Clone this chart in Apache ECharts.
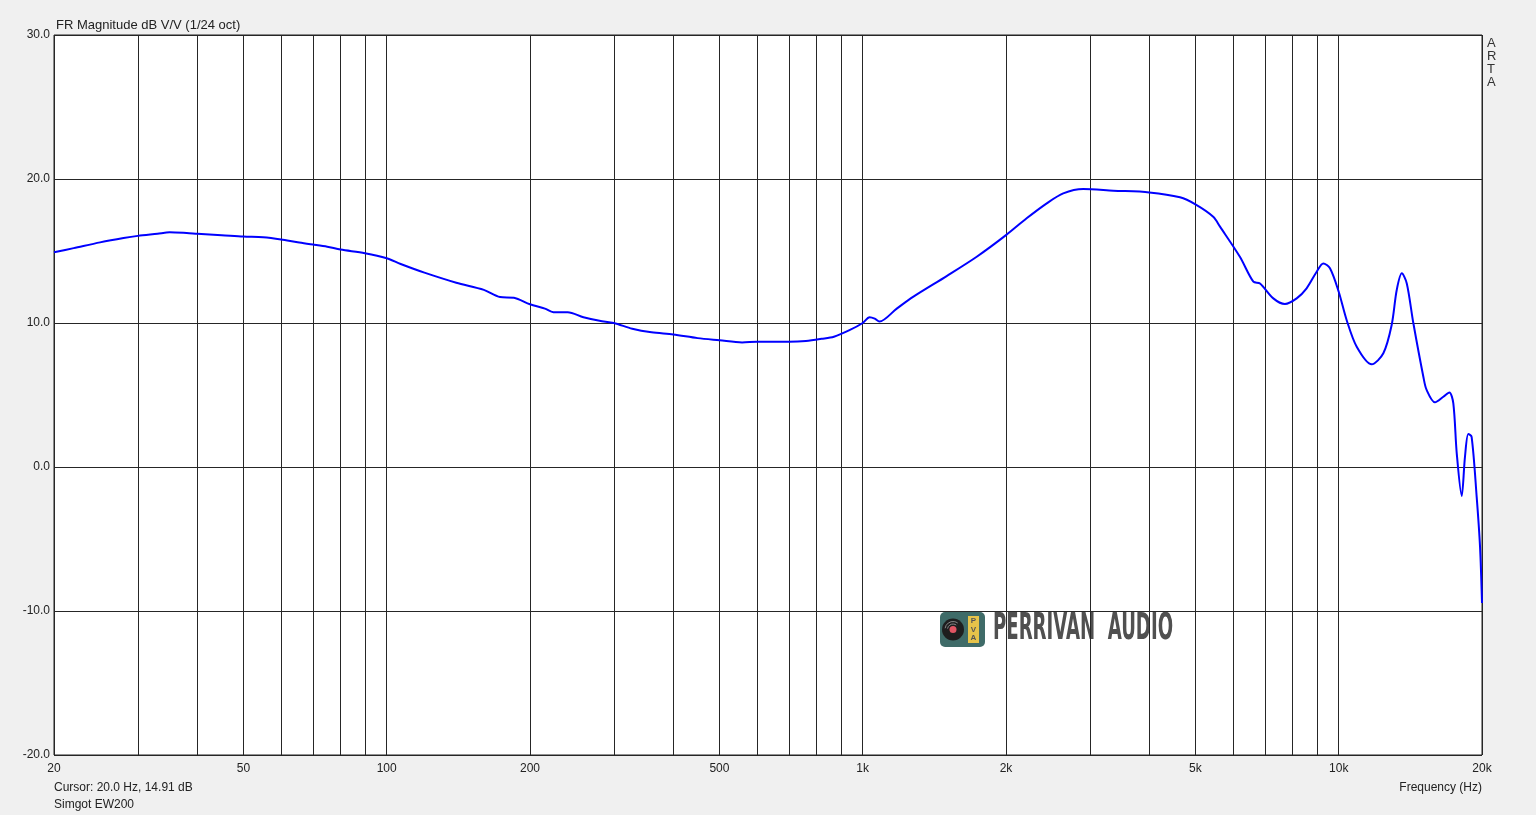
<!DOCTYPE html>
<html>
<head>
<meta charset="utf-8">
<script src="https://cdn.jsdelivr.net/npm/echarts@6/dist/echarts.min.js"></script>
<style>
html,body{margin:0;padding:0;background:#f0f0f0;}
#chart{width:1536px;height:815px;}
</style>
</head>
<body>
<div id="chart"></div>
<script>
// Frequency (Hz) and magnitude (dB)
const freqHz = [20,22,25,28,30,33,35,38,40,45,50,55,60,65,70,75,80,90,100,107,120,140,160,173,185,200,215,224,240,259,280,300,328,360,400,450,500,558,600,700,760,820,870,938,1000,1034,1060,1084,1179,1278,1501,1736,2000,2210,2436,2638,2906,3361,4000,4640,5000,5450,5632,6200,6618,6834,7288,7710,8160,8562,8990,9280,9586,10000,10390,10910,11730,12410,12920,13240,13570,13900,14350,15060,15300,15930,16590,17080,17410,17700,18130,18420,18720,19020,19490,19810,20000];
const magDb = [14.91,15.2,15.6,15.9,16.05,16.2,16.3,16.25,16.2,16.1,16.0,15.95,15.8,15.6,15.45,15.3,15.1,14.85,14.5,14.1,13.5,12.8,12.3,11.8,11.75,11.3,11.0,10.75,10.75,10.4,10.15,10.0,9.6,9.35,9.2,8.95,8.8,8.65,8.7,8.7,8.75,8.9,9.05,9.5,10.0,10.4,10.3,10.1,11.0,11.83,13.26,14.6,16.1,17.27,18.31,19.0,19.3,19.19,19.07,18.73,18.24,17.38,16.69,14.6,12.87,12.75,11.71,11.32,11.71,12.41,13.56,14.14,13.8,12.17,10.21,8.35,7.13,7.9,9.86,12.29,13.45,12.75,9.98,6.27,5.35,4.49,4.88,5.18,4.42,0.95,-2.01,0.72,2.29,2.1,-2.06,-5.53,-9.45];
const xLabelFreqs = [20,50,100,200,500,1000,2000,5000,10000,20000];
const xGridFreqs = [20,30,40,50,60,70,80,90,100,200,300,400,500,600,700,800,900,1000,2000,3000,4000,5000,6000,7000,8000,9000,10000,20000];
const yMin = -20, yMax = 30, yStep = 10;
const titleText = 'FR Magnitude dB V/V (1/24 oct)';
const cursorText = 'Cursor: 20.0 Hz, 14.91 dB';
const nameText = 'Simgot EW200';
const xAxisTitle = 'Frequency (Hz)';

const lg = v => Math.log10(v);
const seriesData = freqHz.map((f, i) => [lg(f), magDb[i]]);
const fmtFreq = v => {
  const f = Math.round(Math.pow(10, v));
  return f >= 1000 ? (f / 1000) + 'k' : String(f);
};

const chart = echarts.init(document.getElementById('chart'));
const font = "'Liberation Sans', Arial, sans-serif";
chart.setOption({
  backgroundColor: '#f0f0f0',
  animation: false,
  grid: {left: 54, right: 54, top: 35, bottom: 60, show: true, backgroundColor: '#ffffff', borderColor: '#222', borderWidth: 1},
  xAxis: {
    type: 'value', min: lg(20), max: lg(20000),
    axisLine: {show: false},
    axisTick: {show: false, customValues: xGridFreqs.map(lg)},
    splitLine: {show: true, lineStyle: {color: '#262626', width: 1}},
    axisLabel: {customValues: xLabelFreqs.map(lg), formatter: fmtFreq, color: '#222', fontFamily: font, fontSize: 12, margin: 8}
  },
  yAxis: {
    type: 'value', min: yMin, max: yMax, interval: yStep,
    axisLine: {show: false}, axisTick: {show: false},
    splitLine: {show: true, lineStyle: {color: '#262626', width: 1}},
    axisLabel: {formatter: v => v.toFixed(1), color: '#222', fontFamily: font, fontSize: 12, margin: 4}
  },
  series: [{
    type: 'line', data: seriesData, showSymbol: false, smooth: 0.3,
    lineStyle: {color: '#0000ff', width: 2, join: 'round'}, z: 5
  }],
  graphic: [
    {type: 'text', left: 56, top: 19, style: {text: titleText, fill: '#222', font: '13px ' + font}},
    {type: 'text', left: 54, top: 782, style: {text: cursorText, fill: '#222', font: '12px ' + font}},
    {type: 'text', left: 54, top: 799, style: {text: nameText, fill: '#222', font: '12px ' + font}},
    {type: 'text', right: 54, top: 782, style: {text: xAxisTitle, fill: '#222', font: '12px ' + font}},
    {type: 'text', left: 1487, top: 37, style: {text: 'A\nR\nT\nA', fill: '#333', font: '13px ' + font, lineHeight: 13}},
    {type: 'group', left: 940, top: 612, children: [
      {type: 'rect', shape: {x: 0, y: 0, width: 45, height: 35, r: 5}, style: {fill: '#3f6b68'}},
      {type: 'circle', shape: {cx: 13, cy: 17.5, r: 11}, style: {fill: '#1e1e1e'}},
      {type: 'arc', shape: {cx: 13, cy: 17.5, r: 8, startAngle: Math.PI * 1.05, endAngle: Math.PI * 1.7}, style: {stroke: '#888', lineWidth: 1, fill: null}},
      {type: 'arc', shape: {cx: 13, cy: 17.5, r: 5.5, startAngle: Math.PI * 1.05, endAngle: Math.PI * 1.7}, style: {stroke: '#888', lineWidth: 1, fill: null}},
      {type: 'circle', shape: {cx: 13, cy: 17.5, r: 3.5}, style: {fill: '#e25563'}},
      {type: 'rect', shape: {x: 28, y: 4, width: 11, height: 27}, style: {fill: '#e6c34a'}},
      {type: 'text', x: 33.5, y: 5, style: {text: 'P\nV\nA', fill: '#555', font: 'bold 8px ' + font, align: 'center', lineHeight: 8.5}}
    ]},
    {type: 'text', x: 993, y: 629, scaleX: 0.53, style: {text: 'PERRIVAN  AUDIO', fill: '#505050', verticalAlign: 'middle', font: 'bold 38px "DejaVu Sans Condensed", "DejaVu Sans", sans-serif'}}
  ]
});
</script>
</body>
</html>
